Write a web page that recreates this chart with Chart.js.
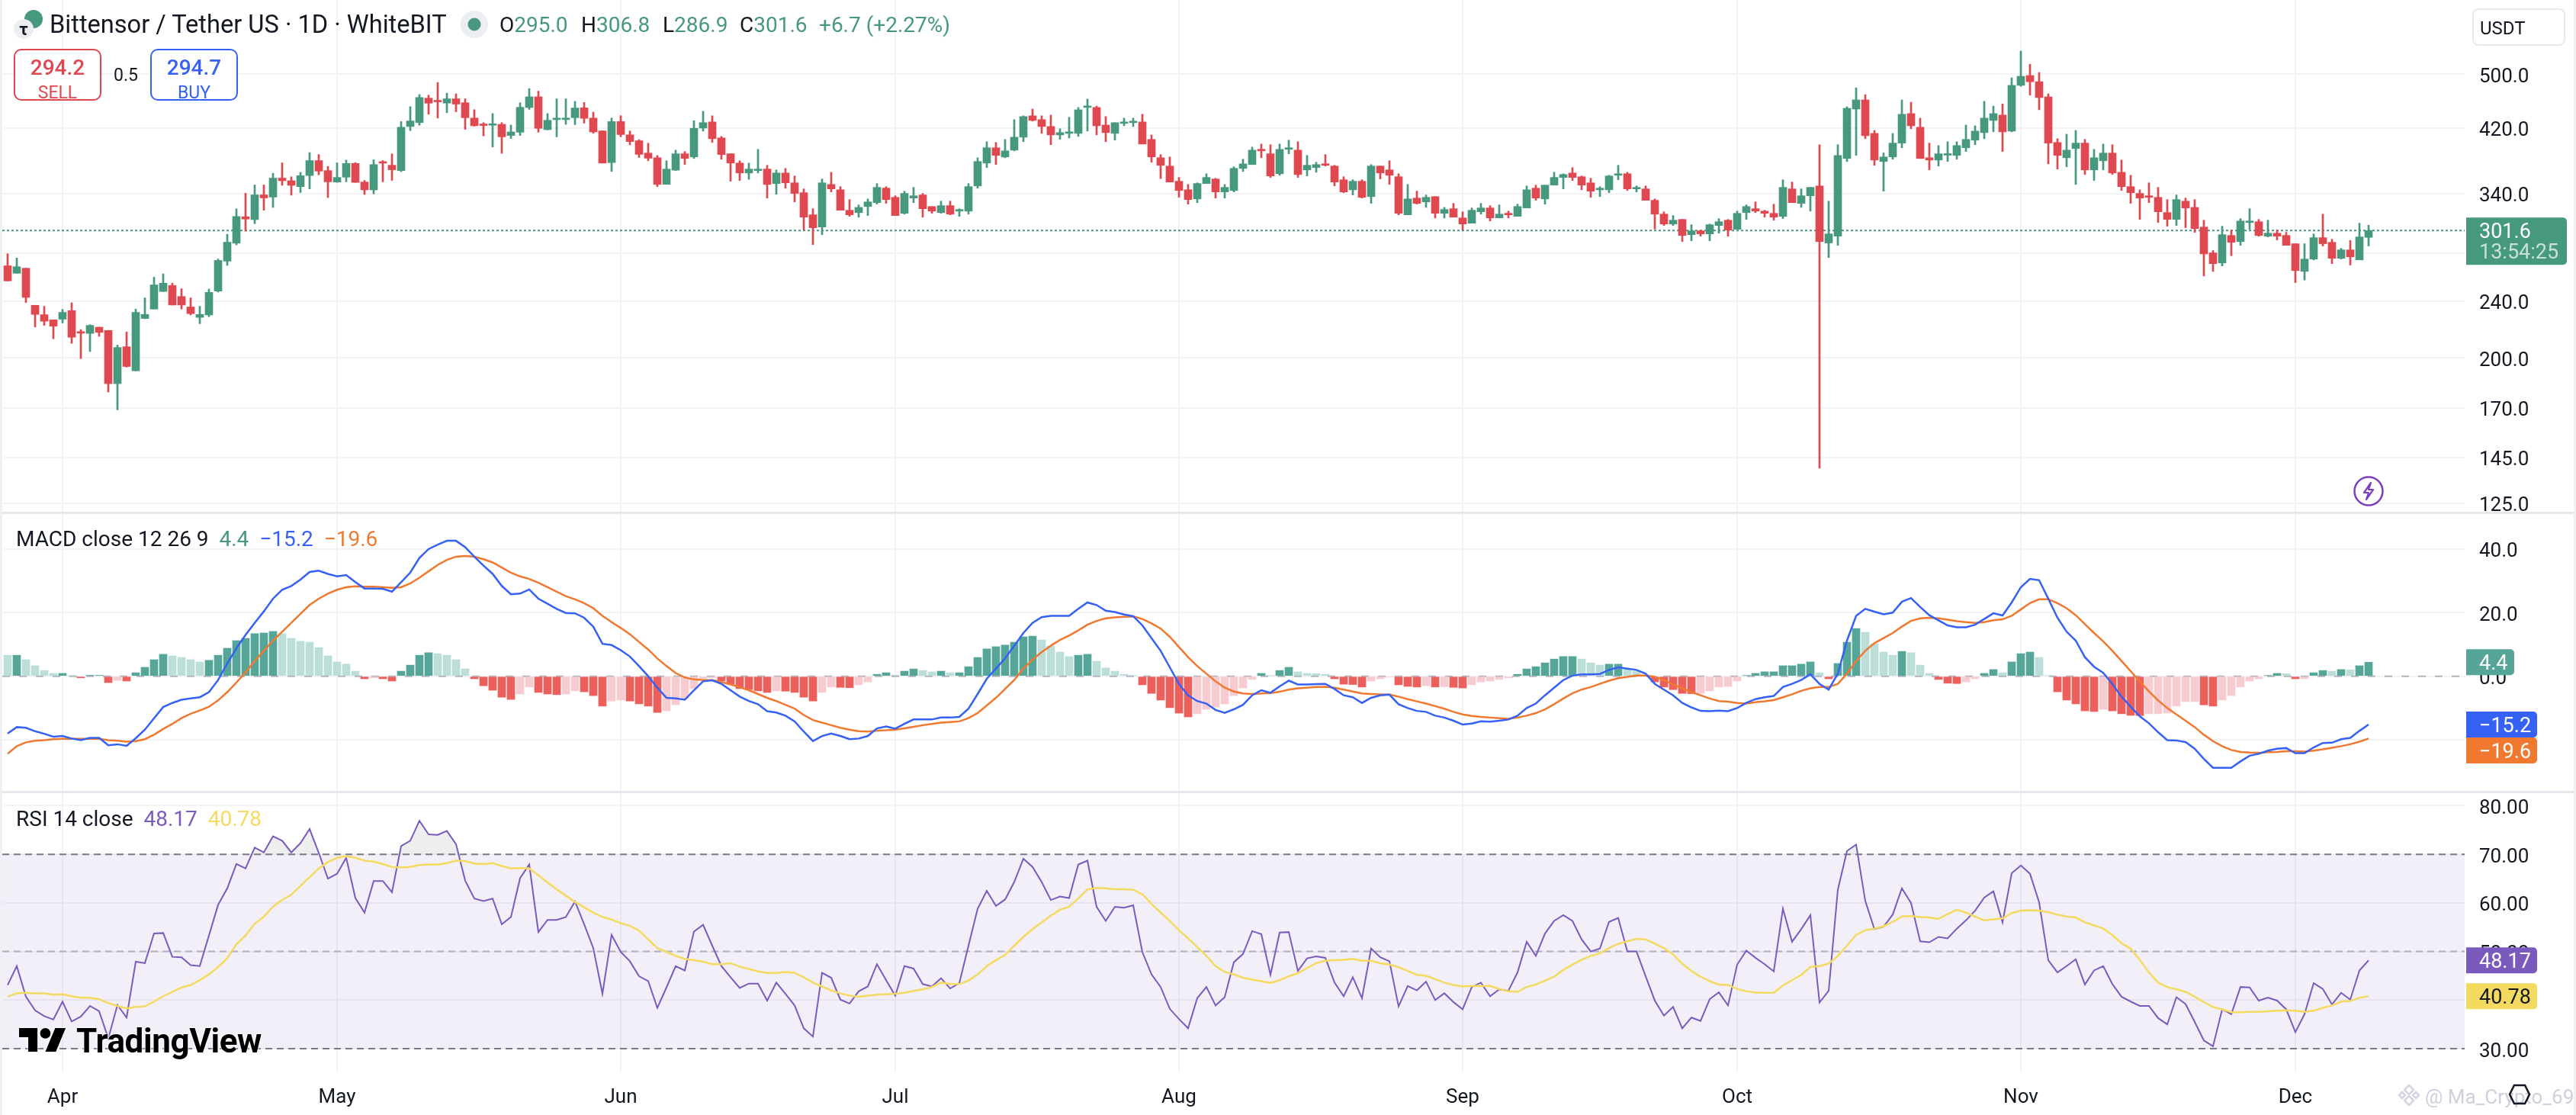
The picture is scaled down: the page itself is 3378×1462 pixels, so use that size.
<!DOCTYPE html>
<html>
<head>
<meta charset="utf-8">
<title>Bittensor / Tether US</title>
<script src="https://cdn.jsdelivr.net/npm/chart.js@4/dist/chart.umd.js"></script>
<style>
  html, body { margin: 0; padding: 0; background: #fff; }
  #page { position: relative; width: 3378px; height: 1462px; overflow: hidden; font-family: Roboto, sans-serif; color: #131722; }
  #myChart { position: absolute; left: 0; top: 0; }
  .txt { position: absolute; white-space: nowrap; line-height: 1; }
  .box { position: absolute; box-sizing: border-box; border: 2px solid; border-radius: 10px; text-align: center; background: #fff; }
  .g { color: #46987f; }
</style>
</head>
<body>
<div id="page">
  <canvas id="myChart" width="3378" height="1462"></canvas>

  <svg class="txt" style="left:14px;top:8px" width="62" height="52" viewBox="0 0 62 52">
    <circle cx="30" cy="17" r="12" fill="#46987f"/>
    <circle cx="17" cy="30" r="13" fill="#eceef2"/>
    <text x="17" y="38" font-size="22" font-weight="700" text-anchor="middle" fill="#131722">τ</text>
  </svg>
  <div class="txt" id="title" style="left:65px;top:16px;font-size:32.6px">Bittensor / Tether US · 1D · WhiteBIT</div>
  <svg class="txt" style="left:604px;top:14px" width="36" height="36"><circle cx="18" cy="18" r="18" fill="#eceef2"/><circle cx="18" cy="18" r="8.5" fill="#46987f"/></svg>
  <div class="txt" style="left:655px;top:19px;font-size:28px">O<span class="g">295.0</span></div>
  <div class="txt" style="left:762px;top:19px;font-size:28px">H<span class="g">306.8</span></div>
  <div class="txt" style="left:869px;top:19px;font-size:28px">L<span class="g">286.9</span></div>
  <div class="txt" style="left:970px;top:19px;font-size:28px">C<span class="g">301.6</span></div>
  <div class="txt g" style="left:1074px;top:19px;font-size:28px">+6.7 (+2.27%)</div>

  <div class="box" style="left:18px;top:64px;width:115px;height:68px;border-color:#e0474f;color:#e0474f">
    <div style="font-size:28px;font-weight:500;margin-top:6px">294.2</div><div style="font-size:23px;margin-top:3px">SELL</div>
  </div>
  <div class="txt" style="left:149px;top:87px;font-size:23px">0.5</div>
  <div class="box" style="left:197px;top:64px;width:115px;height:68px;border-color:#3661f5;color:#3661f5">
    <div style="font-size:28px;font-weight:500;margin-top:6px">294.7</div><div style="font-size:23px;margin-top:3px">BUY</div>
  </div>

  <div class="txt" style="left:3242px;top:11px;width:122px;height:49px;box-sizing:border-box;border:2px solid #e8e9ee;border-radius:8px;font-size:24px;padding:12px 0 0 8px">USDT</div>

  <div class="txt" style="left:21px;top:693px;font-size:28px">MACD close 12 26 9&nbsp; <span class="g">4.4</span>&nbsp; <span style="color:#3661f5">−15.2</span>&nbsp; <span style="color:#f0792f">−19.6</span></div>
  <div class="txt" style="left:21px;top:1060px;font-size:28px">RSI 14 close&nbsp; <span style="color:#7a5bbd">48.17</span>&nbsp; <span style="color:#f5da60">40.78</span></div>

  <svg class="txt" style="left:3085px;top:623px" width="42" height="42" viewBox="0 0 42 42">
    <circle cx="21" cy="21" r="18.5" fill="#fff" stroke="#7b3fc0" stroke-width="2.5"/>
    <path d="M24 10l-9 13h6l-3 9 9-13h-6z" fill="none" stroke="#7b3fc0" stroke-width="2.2" stroke-linejoin="round"/>
  </svg>

  <svg class="txt" style="left:25px;top:1348px;filter:drop-shadow(0 0 2px #fff)" width="62" height="31" viewBox="0 4 36 18"><path d="M14 22H7V11H0V4h14v18zM28 22h-8l7.5-18h8L28 22z" fill="#000"/><circle cx="20" cy="8" r="4" fill="#000"/></svg>
  <div class="txt" id="tvlogo" style="left:100px;top:1343px;font-size:44px;font-weight:700;color:#000;letter-spacing:-0.4px;text-shadow:0 0 3px #fff,0 0 3px #fff">TradingView</div>

  <svg class="txt" style="left:3144px;top:1421px" width="30" height="30" viewBox="0 0 30 30">
    <path d="M15 2l6 6-6 6-6-6zM6 11l4 4-4 4-4-4zM24 11l4 4-4 4-4-4zM15 16l6 6-6 6-6-6z" fill="none" stroke="#d4d4e2" stroke-width="2.5"/>
  </svg>
  <div class="txt" style="left:3180px;top:1425px;font-size:26px;color:#cfcfdd">@ Ma_Crypto_69</div>
  <svg class="txt" style="left:3289px;top:1421px" width="30" height="28" viewBox="0 0 30 28">
    <path d="M8 2h14l6 12-6 12H8L2 14z" fill="none" stroke="#131722" stroke-width="2.5"/>
  </svg>
</div>

<script>
// ---- data ----
const opens = [
  269.1,262.7,267,236.9,229.8,226,226.5,232.8,217.4,216.3,
  220.7,218.4,183.9,207.2,191.7,227,234,247.7,252.5,243.7,
  235.6,227.8,229.6,248,273.2,289.5,315.3,312.4,338.4,336,
  357.2,354.2,347.5,360.2,378,366,352.7,358.3,374.5,352.7,
  343.9,376,372.4,366,422,427.4,462.5,458.6,455.2,461.5,
  455.7,433.7,424.5,423.7,425,410,414.3,448.7,464.5,417.8,
  431.5,431.5,434.2,448.2,433.7,416,375.6,428.8,410.8,403,
  387.3,381.5,350.1,366.5,386.4,382.5,419.9,428.3,406.7,386.4,
  375,363.2,366,367.8,351,363.2,351.8,340.8,317.3,305,
  350,344,322,319.6,325.9,330,345.8,335.7,318.8,334.9,
  338.3,325.9,319.6,326.8,321.1,321.1,348.3,375,394,382.5,
  391,407.7,436.8,431.5,422,410.7,412.7,412.7,448.8,448.8,
  424,412.7,426.2,427.3,428.3,404.8,381.5,371.4,353.6,344,
  334,351,356.2,341.6,343.2,368.6,373.2,392,386.4,362.3,
  392,391,366.8,369.6,374,371.4,355.3,344,353.6,336.5,
  371.4,366.8,358.8,317.3,334.9,330.8,336.5,318.8,323.6,314.1,
  308.8,320.4,324.4,314.1,318.8,315.7,324.4,345.8,334,349.2,
  358,363.2,358.8,351.8,344,344,360.5,362.3,345,345,
  332.5,318,308,312.6,297.6,301.3,298.3,306.5,311.8,302.8,
  319.6,323.6,321.1,318.8,315.7,345,329.2,337.4,348.3,289.7,
  296.1,380.6,446.5,459.9,412.7,376.9,382.5,400,440,421,
  381.5,378.7,384.7,384.4,394,403.8,413.8,430.4,437.9,415.8,
  482,497.5,487.7,464.4,400.8,381.5,393,400,366.8,377.8,
  387.3,364,347.5,340,337.4,335.7,319.6,312.6,331.6,325,
  305,280.6,271.6,296.8,291,309.5,310.3,296.1,299,296.8,
  289,264.3,275,294.7,290.3,275.7,283.3,274.3,295
];
const highs = [
  279.8,276,267,236.9,236.1,226,233.8,238.8,219,222.5,
  220.7,218.4,208.3,217.3,234,242.6,259.4,262.2,254.4,249.9,
  242.6,236.1,249.6,275,297.9,323.5,340.2,349.4,349.4,362.7,
  375.3,358.7,363.9,388,385.5,371,375.3,378.6,375.6,354.6,
  379,378,386.3,428.8,449.9,468,467,486.6,470,469,
  461.5,445.6,427.4,440,427.4,424,455.7,477,473,440,
  461.5,461.5,457.6,456,442,416.5,433.7,437,416,404.5,
  399.9,384.3,377.8,391,389.3,430,443.2,436.8,408.7,386.4,
  377.8,375,392,372.3,366.8,368.6,359.7,345,323.6,356.2,
  364,347.5,333.3,327.6,334,351,347.5,337.4,342.5,346.7,
  340,325.9,331.6,331.6,323.6,351,381.5,401.8,400.8,404.8,
  431.5,436.8,446.5,436.8,437.9,419,434.8,448.8,461,450.7,
  435.8,427.3,433.6,433.6,439,410.7,385.4,382.5,358,350,
  351.8,362.3,357,350,370.5,379.7,394.9,398.8,397.9,398.8,
  403.8,401.8,384.4,376,385.4,372.3,358.8,355.3,355.3,373.2,
  371.4,377.8,362.3,350,342.5,338.3,336.5,325,329.2,320.4,
  324.4,329.2,326.8,327.6,321.1,328.4,348.3,349.2,349.2,364,
  362.3,369.6,359.7,357,347.5,360.5,372.3,364,348.3,348.3,
  334,320.4,316.5,312.6,307.3,302,308,313.4,312.6,321.1,
  327.6,330.8,322,328.4,355.3,352.7,345,346.7,397.9,331.6,
  397.9,449.8,478,467.8,416.6,387.5,412.7,459.9,456.4,433.6,
  400,396.9,401.8,401.8,424,423,457.7,450.7,453.9,493.9,
  538.3,516,502.5,469,405.7,411.7,416.6,404.8,392,398.8,
  397.9,378.7,360.5,344,351.8,346.7,333.3,338.3,334.9,333.3,
  311.8,282.7,305.8,302,313.4,323.6,312.6,311.8,302,299.8,
  289,289,298.3,318,293.2,284.7,292,308.8,306.8
];
const lows = [
  256.3,262.7,239,220.9,222,212.6,223.7,209.5,199.4,204,
  214.3,179,169,194,191.7,226.8,234,247.7,237.1,234,
  229.6,223.2,228.3,247.2,269.4,287.9,301,308.3,322,324.9,
  349,338,341,345,361,335.5,352.3,353,352.3,338.8,
  339.5,353,354.6,364.8,416.5,423.7,439,433.7,441.2,442.6,
  418.2,422.5,409.5,395,387,406,410,446,414.3,417.4,
  408.2,425,424.6,426.6,412.9,375,365,408.2,397.7,381.9,
  377.8,347.5,350.1,365.9,373.2,380.6,415.8,400.8,379.7,353.7,
  354.5,355.8,363.2,334.9,339,345.8,330.8,302,288.2,297.6,
  341.6,322,315.7,314.9,316.5,328.4,329.2,316.5,318,330,
  314.9,318.8,318.8,317.3,315.7,318,345.8,369.6,373.2,381.5,
  390.1,401.8,429.4,412.7,397.9,404.8,406.7,408.7,415.8,410.7,
  401.8,403.8,423,422,398.8,376,356.6,352.7,335.7,328.4,
  330,351,334.9,334.9,341.6,365,373.2,381.5,358,360.5,
  386.4,358,359.7,364,371.4,348.3,340.8,338.3,334.9,329.2,
  356.2,350,317.3,317.3,328.4,325,314,314,314.9,302,
  308.8,318,311,314.1,314.1,315.7,324.4,332.5,328.4,349.2,
  345,354.5,344,335.7,336.5,340.8,355.3,343.2,341.6,332.5,
  303,306.5,306.5,291,291.8,296.1,291.8,299,296.1,302.8,
  312.6,319.6,314.9,311.8,313.4,330,325,321.1,140,276.3,
  287.5,376.9,384.4,405.7,372.3,342.5,379.7,394,419,380.6,
  366.8,371.4,376.9,379.7,389.3,397.9,405.7,414.8,389.3,414.8,
  480.5,467,445.4,374,367.8,370.5,350,361.4,354.5,366.8,
  361.4,343.2,329.2,312.6,330,309.5,305.8,306.5,304.3,299.8,
  260.4,264.2,269,278,287.5,302.8,296.1,295.4,292.5,287.5,
  254.9,257,274.3,286.8,271,275,269.8,274.3,286.9
];
const closes = [
  256.3,268.3,243,230,225,221.4,231.5,213.7,216.5,222,
  217,183.9,206.7,194.4,231.5,230,253,254.4,237.1,237.1,
  230.6,230,247,273.8,290.4,315.6,313,338.4,335.1,357.2,
  354.2,349,360,378,365.4,353,358,374.5,352.3,343.9,
  373.2,374.9,367,421,429.6,463.5,455,457,461.5,453.7,
  434.2,423,423.4,425,408.2,414.7,449,464.5,419.5,430.6,
  433.3,433.7,448,433.3,414.7,375,428.8,411.2,402,385.7,
  380.9,350,367.8,386.4,380.6,419.6,427.3,405.7,385.5,375,
  363.2,367.8,367.8,350,363.2,351.8,340,314.9,304.3,351.8,
  345,322,317.3,325,330.8,346.7,333.3,316.5,340,337.4,
  323.6,321.1,326.8,318,322.8,347.5,376.9,394,384.4,390.1,
  407.7,435.8,430.4,422,410.7,413.8,414.8,445.4,450.7,423,
  413.8,427.3,428.3,429.4,398.8,382.5,372.3,352.7,343.2,333.3,
  351,358,341.6,346.7,368.6,374,391,390.1,359.7,392,
  394,361.4,372.3,373.2,372.3,352.7,341.6,353.6,335.7,371.4,
  363.2,360.5,318.8,334,329.2,335.7,318.8,322.8,314.9,308,
  322,324.4,314.1,318,317.3,325.9,344,334.9,349.2,358,
  361.4,358,349.2,342.5,345.8,359.7,362.3,345,346.7,332.5,
  318,308,311.8,296.8,301.3,298.3,307.3,310.3,302,318.8,
  325.9,321.1,318.8,314.9,346.7,330,337.4,346.7,291,298.3,
  384.4,447.6,459.9,409.7,378.7,382.5,400,439,423,380.6,
  378.7,386.4,386.4,396.9,404.8,415.8,433.6,440,414.8,482,
  496.3,487.7,463.3,400,384.4,391,400,366.8,381.5,387.3,
  363.2,347.5,340.8,334.9,335.7,320.4,312.6,333.3,324.4,303.5,
  279.7,271,297.6,290.3,311,311,296.8,299,296.1,287.5,
  265,275,294.7,289,275.7,283.3,277,295.4,301.6
];
const histogram = [
  6.6,6.6,5.2,3.3,1.8,.9,.9,.2,-.5,.3,
  .3,-2,-1.3,-1.5,1.1,2.8,5.2,6.9,6.4,5.9,
  5.2,4.5,5,6.6,8.8,11.2,11.9,13.4,13.6,14.1,
  13.4,11.9,11,10.7,9,6.4,4.5,3.8,1.6,-.8,
  -.5,-.8,-1.5,1.6,3.5,6.6,7.4,7.1,6.6,5.2,
  2.3,-.8,-3,-4.4,-6.6,-7.3,-5.6,-3.4,-5.1,-5.6,
  -5.8,-5.6,-4.6,-4.9,-6.1,-9.4,-7.8,-7.5,-7.8,-8.7,
  -9.4,-11.4,-10.9,-9,-7,-3.9,-.8,-.5,-1.5,-2.5,
  -3.9,-4.2,-4.6,-5.1,-4.6,-4.7,-5.1,-6.6,-7.8,-5.1,
  -3.4,-3.5,-3.6,-2.7,-1.8,.6,1.1,.4,1.6,2.3,
  1.8,1.4,1.6,1.1,1.1,3,5.9,8.6,9.3,9.8,
  10.7,12.4,12.6,11.4,9.5,7.6,6.2,6.6,6.9,4.7,
  2.6,1.6,.6,.2,-2.7,-5.4,-7.5,-9.9,-11.6,-12.8,
  -11.8,-10.4,-9.7,-8.7,-6.1,-3.7,-1,.9,.2,1.8,
  2.8,1.4,.9,.8,.6,-.8,-2.5,-2.6,-3.4,-1.5,
  -.8,-.3,-2.7,-3.2,-3.4,-3,-3.4,-3.3,-3.5,-3.7,
  -2.7,-1.8,-1.5,-1,-.5,.6,2.3,3,4.2,5.4,
  6.2,6.2,5.4,4.2,3.5,3.8,3.8,2.3,1.6,.4,
  -1.8,-3.4,-4.2,-5.4,-5.5,-5.4,-4.6,-3.4,-3.2,-1.5,
  .2,.9,1.4,1.4,3.3,3.3,3.8,4.5,1.1,-.8,
  4,10.7,15,13.8,10.2,7.6,6.6,7.8,7.4,3.5,
  .9,-1,-2.2,-2.3,-1.8,-.8,.9,2.1,1.1,4.5,
  7.1,7.6,5.9,.2,-4.9,-7.5,-8.7,-10.9,-11.1,-10.4,
  -10.9,-11.8,-12.3,-12.4,-11.8,-11.8,-11.6,-9.4,-8,-8,
  -9,-9.4,-7.5,-6.1,-3.4,-1.5,-.8,.2,.9,.8,
  -.8,-.8,1.1,1.8,1.6,2.1,2,3.3,4.4
];
const macdLine = [
  -18,-16,-16.2,-17.3,-18.1,-19,-18.8,-19.6,-20.1,-19.4,
  -19.4,-21.7,-21.4,-21.9,-19.5,-16.8,-13.2,-9.7,-8.4,-7.4,
  -7,-6.6,-5,-1.2,4,8.8,13,16.8,20.4,24.4,
  27.2,28.4,30.4,32.8,33.2,32.2,31.4,31.8,29.6,27.6,
  27.6,27.5,26.6,29.6,32.6,37.2,40,41.4,42.6,42.6,
  40.6,37.6,34.8,32.2,28.4,25.8,26,27.3,24.4,22.8,
  21.2,19.9,19.8,18.4,15.6,10.2,9.8,8.2,6.2,3.2,
  0,-3.6,-6.8,-7,-7.4,-4.4,-1.6,-1.3,-2.4,-4.4,
  -6.4,-7.8,-8.8,-11,-11.4,-12.4,-14.2,-17.4,-20.4,-18.8,
  -18,-18.8,-19.8,-19.6,
  -18.8,-16.4,-15.8,-16.5,-15,-13.6,-13.6,-13.6,-13,-13,
  -12.8,-10.2,-5.6,-.8,2.4,5.6,9.6,13.6,16.8,18.6,
  19,19,19,21.2,23.2,22.4,20.6,20.2,19.4,18.9,
  16,12,8,2.8,-2.4,-6,-7.8,-8.6,-10.6,-11.5,
  -10.4,-9,-6,-4.4,-5.2,-3.2,-1.4,-2.6,-2.6,-2.5,
  -2.4,-4,-6,-6.6,-8.4,-6.8,-6,-5.8,-8.8,-10,
  -10.9,-11.2,-12.4,-13,-14,-15.2,-14.9,-14.2,-14.3,-14,
  -13.6,-12.4,-10,-8.6,-6,-3.6,-1.2,.2,.6,.6,
  .7,2,2.8,2.4,2,.8,-2.4,-4.2,-6,-8.4,
  -9.8,-10.9,-11,-10.8,
  -11,-10,-8.4,-7.2,-6.6,-6.2,-3.4,-2.4,-1.2,.6,
  -2.4,-4.2,.8,11.2,19,21.2,20.3,19.5,20,23.4,
  24.6,21.8,19.2,17.6,16,15.4,15.4,16.2,18,19.8,
  19.1,23.2,28,30.6,30.2,24.4,18.4,14,11.2,6,
  3,1.1,-2.4,-6.4,-9.6,-12.6,-14.8,-17.6,-20.1,-20.2,
  -20.7,-22.8,-26,-28.8,-28.8,-28.8,-26.8,-25,-24.4,-23.4,
  -22.8,-22.6,-24.2,-24.2,-22.4,-21,-20.9,-19.8,-19.4,-17.2,
  -15.2
];
const signalLine = [
  -24.4,-22,-20.8,-20.3,-20.1,-19.8,-19.7,-19.7,-19.7,-19.7,
  -19.7,-20.1,-20.3,-20.6,-20.4,-19.8,-18.4,-16.6,-15,-13.2,
  -11.8,-10.8,-9.6,-7.6,-5,-2,1.2,4.8,8,11.2,
  14,16.8,19.6,22.4,24.4,26,27.2,28,28.3,28.2,
  28.2,28,27.8,28,29.2,31,33,35,36.6,37.6,
  37.8,37.6,36.8,35.8,34.2,32.6,31.4,30.6,29.4,28,
  26.6,25.2,24.2,23,21.4,19,17,15.2,13.2,10.8,
  8.4,5.6,3.2,1,-.4,-1,-1.2,-1.2,-1.8,-2.6,
  -3.4,-4.4,-5.6,-6.8,-7.8,-9,-10.2,-12.2,-13.8,-14.6,
  -15.4,-16.2,-16.8,-17.3,
  -17.4,-17.1,-17,-16.8,-16.4,-15.9,-15.4,-15,-14.6,-14.4,
  -14.2,-13.2,-11.6,-9.2,-6.8,-4,-1.2,2.4,5.2,7.6,
  9.6,11.4,12.8,14.4,16.2,17.4,18.2,18.5,18.7,18.8,
  18,16.6,15,12.4,9.2,6,3.2,.8,-1.6,-3.6,
  -4.8,-5.4,-5.6,-5.4,-5.3,-4.9,-4.2,-3.8,-3.6,-3.4,
  -3.3,-3.6,-4.2,-4.8,-5.4,-5.6,-5.7,-5.8,-6.4,-7.2,
  -7.9,-8.6,-9.4,-10.2,-11.2,-12,-12.5,-12.8,-13,-13.2,
  -13.4,-13,-12.4,-11.6,-10.4,-8.8,-7,-5.4,-4.2,-3.4,
  -2.4,-1.4,-.6,-.2,.2,.2,-.2,-1.2,-2.6,-3.8,
  -5,-6,-7,-7.8,
  -8,-8.4,-8.6,-8.2,-7.9,-7.5,-6.6,-5.7,-4.6,-3.8,
  -3.4,-3.4,-2.4,.8,4.8,8,10.4,12,13.6,15.6,
  17.4,18.2,18.4,18.2,17.8,17.3,17,16.8,17,17.6,
  17.9,19,21,23,24.2,24.2,23,21.4,19.2,16.4,
  13.6,11,8,4.8,1.6,-1.6,-4.8,-7.6,-10,-12,
  -14,-16,-18.4,-20.4,-22,-23.2,-23.8,-24,-24.1,-23.9,
  -23.8,-23.6,-23.6,-23.7,-23.4,-23,-22.5,-22,-21.4,-20.6,
  -19.6
];
const rsiLine = [
  43.1,47,40.7,37.9,36.7,36,39.7,35.6,36.6,38.8,
  37.7,32.1,39,36.4,47.9,47.6,53.7,53.8,48.9,48.8,
  47.2,47,53.3,59.6,63,68,67.1,71.4,70.4,73.7,
  72.8,70.4,72.3,75.2,70.3,65,66,69.3,61,58,
  64.5,64.5,62.2,71.7,72.8,76.9,74.1,74,74.8,72.1,
  64.6,60.9,60.4,60.9,55.6,57.1,65.1,67.9,54,56.5,
  56.5,57.1,60.3,55.6,50.7,41.3,53.4,49.9,48,44.9,
  43.9,38.4,42.6,47,46.1,54.1,55.5,51.2,47,44.7,
  42.5,43.4,43.4,39.9,43.6,41.3,38.9,34.2,32.5,45.6,
  44.6,40.1,39.3,41.8,
  42.8,47.4,44.1,40.9,47,46.5,43.3,42.8,44.5,42.4,
  43.5,51.2,58.8,62.5,59.4,60.7,64.3,69.1,67.4,64.3,
  60.6,61.3,61,67.9,68.7,59.2,56.3,59.2,59,59.5,
  49.9,45.3,42.7,38.2,36.1,34.2,40.4,42.7,38.9,40.6,
  47.8,49.5,54.2,53.6,45.2,53.9,54,46,48.6,49,
  48.7,43.6,40.8,44.7,40.4,50.6,48.8,48,38.7,42.9,
  42,43.8,40,41.4,39.6,38.1,42.7,43.6,40.8,42.2,
  41.9,45.7,52,49.1,53.7,56.3,57.5,56.3,52.5,50,
  50.6,56.1,56.9,50,50,44.9,39.9,36.8,38.6,34.2,
  36.4,35.7,40.2,41.6,
  38.9,47.3,50.2,48.7,47.4,45.9,58.8,52,54.6,57.5,
  39.5,41.9,62.7,70.7,72,60.4,54.6,55.1,57.6,63,
  60,52.1,51.9,53,52.7,54.7,56.4,58.4,61.1,62.4,
  56,66.1,67.7,66,60.1,48.2,45.7,47,48.4,43.2,
  46.1,47,43.3,40.7,39.7,38.8,38.8,36.3,35,40.6,
  39.2,35.5,31.7,30.5,38.1,37.1,42.7,42.6,39.9,40.5,
  39.9,38.1,33.4,37.1,43.5,42.3,39.1,41.5,40.1,46.1,
  48.17
];
const rsiAverage = [
  40.7,41.4,41.5,41.4,41.4,41.1,41.2,40.8,40.5,40.5,
  40.2,39.4,38.8,38.3,38.6,38.7,39.7,40.8,41.7,42.6,
  43.1,44.1,45.3,46.8,48.6,51.5,53.3,55.7,57.2,59.2,
  60.6,61.7,63.5,65.3,67.1,68.4,69.3,69.6,69.3,68.7,
  68.5,68,67.4,67.3,67.4,67.8,67.9,67.9,68.2,68.7,
  68.6,68.1,68,68.2,67.6,67.1,67.2,67.1,65.7,64.2,
  62.8,61.5,60.2,59.1,58,57.1,56.6,55.8,55.3,54.3,
  52.5,50.7,49.9,49.1,48.5,48.2,47.9,47.4,47.4,47.6,
  46.9,46.4,45.9,45.6,45.6,45.8,45.6,44.7,43.6,42.8,
  42,41.4,40.9,40.7,
  40.9,41.1,41.2,41.3,41.5,41.9,42.2,42.7,43.6,43.3,
  43.3,44,45.3,47,48.2,49.3,51.2,53,54.6,56,
  57.4,58.6,59.2,60.9,62.8,63.1,63,62.8,62.8,62.7,
  61.8,59.8,58,56.3,54.4,52.7,50.9,49.1,47,45.8,
  45.3,44.6,44.2,43.9,43.5,44.1,44.9,45.5,46.6,47.6,
  48.1,48.2,48.3,48.5,48.1,48.1,47.6,47.3,46.8,46,
  45.2,45,44.3,43.6,43.1,42.8,42.9,42.9,42.9,42.3,
  41.8,41.7,42.7,43.2,44,44.8,46.2,47.3,48.3,49.1,
  49.6,50.7,51.6,52.1,52.6,52.5,51.6,50.7,49.4,47.5,
  46,44.8,43.9,43.2,
  43.1,42.3,41.8,41.6,41.5,41.5,43,44.1,45.2,46.8,
  47,47.5,49.1,51.2,53.4,54.4,54.7,55.2,56.1,57.2,
  57.3,57.1,57,56.7,57.7,58.6,58,57.2,56.4,56.6,
  56.8,57.9,58.4,58.5,58.4,58.1,57.6,57.2,57,56,
  55.4,54.7,53.4,51.7,50.6,48.3,45.7,43.6,42.7,42.2,
  41.7,40.7,39.6,38.6,38.1,37.5,37.5,37.6,37.6,37.7,
  37.8,37.9,37.8,37.6,37.8,38.4,38.9,39.7,39.8,40.5,
  40.78
];
const priceTicks = [125, 145, 170, 200, 240, 280, 340, 420, 500];
const macdTicks = [-20, 0, 20, 40];
const rsiTicks = [30, 40, 50, 60, 70, 80];
const monthNames = { '04': 'Apr', '05': 'May', '06': 'Jun', '07': 'Jul', '08': 'Aug', '09': 'Sep', '10': 'Oct', '11': 'Nov', '12': 'Dec' };
const lastPrice = 301.6;
const countdown = '13:54:25';

// ---- colours ----
const GREEN = '#46987f';
const RED = '#e0474f';
const BLUE = '#3661f5';
const ORANGE = '#f0792f';
const PURPLE = '#7a5bbd';
const YELLOW = '#f5da60';
const GRID = '#f3f3f5';
const INK = '#131722';
const FONT = { family: 'Roboto, sans-serif', size: 26 };

// one category per day, plus the empty days right of the last candle
const days = [];
const start = Date.UTC(2025, 2, 26);
for (let i = 0; i < closes.length + 10; i++) {
  days.push(new Date(start + i * 86400000).toISOString().slice(0, 10));
}
const monthOf = (i) => days[i].endsWith('-01') ? monthNames[days[i].slice(5, 7)] : '';

const candleColor = (c) => closes[c.dataIndex] >= opens[c.dataIndex] ? GREEN : RED;
const histColor = (c) => {
  const i = c.dataIndex;
  const v = histogram[i];
  if (v >= 0) return i > 0 && v >= histogram[i - 1] ? '#55a698' : '#bcded8';
  return v < histogram[i - 1] ? '#ee5f5b' : '#f8cbd0';
};

// no margin for labels that overflow the scale, the panes fill the canvas edge to edge
const noPadding = (s) => {
  s.paddingTop = 0;
  s.paddingBottom = 0;
  s.paddingLeft = 0;
  s.paddingRight = 0;
};

// right hand axis, all three panes have the same width
const paneAxis = (ticks, fmt, extra) => Object.assign({
  position: 'right',
  stack: 'panes',
  border: { display: false },
  grid: { color: GRID, lineWidth: 2, drawTicks: false },
  afterFit: (s) => { s.width = 146; noPadding(s); },
  afterBuildTicks: (s) => { s.ticks = ticks.map((value) => ({ value })); },
  ticks: { color: INK, font: FONT, padding: 19, labelOffset: 4, autoSkip: false, callback: fmt }
}, extra);

const badge = (ctx, x, y, w, h, bg, fg, text) => {
  ctx.fillStyle = bg;
  ctx.beginPath();
  ctx.roundRect(x, y, w, h, [0, 5, 5, 0]);
  ctx.fill();
  ctx.fillStyle = fg;
  ctx.textAlign = 'left';
  ctx.textBaseline = 'middle';
  ctx.fillText(text, x + 17, y + h / 2 + 3);
};

// rsi band, dashed levels, last price line and the axis badges
const panes = {
  id: 'panes',
  beforeDatasetsDraw(chart) {
    const { ctx, chartArea: a, scales: s } = chart;
    const hline = (y, color, width, dash) => {
      ctx.strokeStyle = color;
      ctx.lineWidth = width;
      ctx.setLineDash(dash);
      ctx.beginPath();
      ctx.moveTo(3, y);
      ctx.lineTo(a.right, y);
      ctx.stroke();
    };
    ctx.save();
    const top = s.yRsi.getPixelForValue(70);
    ctx.fillStyle = 'rgba(120,80,190,0.095)';
    ctx.fillRect(3, top, a.right - 3, s.yRsi.getPixelForValue(30) - top);
    hline(s.yRsi.getPixelForValue(70), '#787b86', 2, [9, 6]);
    hline(s.yRsi.getPixelForValue(50), '#b0b0b8', 2, [9, 6]);
    hline(s.yRsi.getPixelForValue(30), '#787b86', 2, [9, 6]);
    hline(s.yMacd.getPixelForValue(0), '#b2b5be', 2, [10, 12]);
    hline(s.yPrice.getPixelForValue(lastPrice), GREEN, 2, [3, 3]);
    ctx.restore();
  },
  afterDraw(chart) {
    const { ctx, scales: s, width, height } = chart;
    ctx.save();
    ctx.fillStyle = '#e6e6ec';
    ctx.fillRect(0, s.yPrice.bottom - 1, width, 3);
    ctx.fillRect(0, s.yMacd.bottom - 1, width, 3);
    ctx.fillStyle = '#f0f0f3';
    ctx.fillRect(0, 0, 3, height);
    ctx.fillRect(width - 3, 0, 3, height);

    ctx.font = '27px Roboto, sans-serif';
    const x = 3234;
    const py = s.yPrice.getPixelForValue(lastPrice);
    ctx.fillStyle = GREEN;
    ctx.beginPath();
    ctx.roundRect(x, py - 17, 132, 62, [0, 5, 5, 0]);
    ctx.fill();
    ctx.fillStyle = '#fff';
    ctx.textAlign = 'left';
    ctx.textBaseline = 'middle';
    ctx.fillText(lastPrice.toFixed(1), x + 17, py + 3);
    ctx.fillStyle = 'rgba(255,255,255,0.7)';
    ctx.fillText(countdown, x + 17, py + 30);

    const macdEnd = closes.length - 1;
    badge(ctx, x, s.yMacd.getPixelForValue(histogram[macdEnd]) - 17, 63, 34, '#55a698', '#fff', '4.4');
    badge(ctx, x, s.yMacd.getPixelForValue(macdLine[macdEnd]) - 17, 93, 34, BLUE, '#fff', '−15.2');
    badge(ctx, x, s.yMacd.getPixelForValue(macdLine[macdEnd]) + 17, 93, 34, ORANGE, '#fff', '−19.6');
    badge(ctx, x, s.yRsi.getPixelForValue(rsiLine[macdEnd]) - 17, 93, 34, PURPLE, '#fff', '48.17');
    badge(ctx, x, s.yRsi.getPixelForValue(rsiAverage[macdEnd]) - 17, 93, 34, YELLOW, INK, '40.78');
    ctx.restore();
  }
};

const lineSet = (label, data, color, width, yAxisID, extra) => Object.assign({
  type: 'line', label, data, borderColor: color, borderWidth: width,
  pointRadius: 0, tension: 0, fill: false, yAxisID, order: 1
}, extra);

const config = {
  type: 'bar',
  data: {
    labels: days,
    datasets: [
      // wicks and bodies as floating bars
      { label: 'wick', data: highs.map((h, i) => [lows[i], h]), yAxisID: 'yPrice', grouped: false,
        barThickness: 2, backgroundColor: candleColor, order: 3 },
      { label: 'body', data: opens.map((o, i) => [o, closes[i]]), yAxisID: 'yPrice', grouped: false,
        barThickness: 10, minBarLength: 2, backgroundColor: candleColor, order: 2 },
      { label: 'histogram', data: histogram, yAxisID: 'yMacd', grouped: false,
        barThickness: 10, backgroundColor: histColor, order: 4 },
      lineSet('MACD', macdLine, BLUE, 2.5, 'yMacd'),
      lineSet('Signal', signalLine, ORANGE, 2.5, 'yMacd'),
      lineSet('RSI', rsiLine, PURPLE, 2, 'yRsi', {
        fill: { target: { value: 70 }, above: 'rgba(120,120,130,0.13)', below: 'transparent' }
      }),
      lineSet('RSI MA', rsiAverage, YELLOW, 2.5, 'yRsi', { order: 0 })
    ]
  },
  options: {
    responsive: false,
    devicePixelRatio: 1,
    animation: false,
    events: [],
    layout: { padding: { left: 4 } },
    plugins: { legend: { display: false }, tooltip: { enabled: false } },
    scales: {
      x: {
        offset: true,
        border: { display: false },
        afterFit: (s) => { s.height = 57; noPadding(s); },
        grid: {
          offset: false, drawTicks: false, lineWidth: 2,
          color: (c) => c.index !== undefined && c.type === 'tick' && monthOf(c.index) ? GRID : 'rgba(0,0,0,0)'
        },
        ticks: { color: INK, font: FONT, padding: 19, autoSkip: false, maxRotation: 0,
          callback: (v, i) => monthOf(i) }
      },
      yPrice: paneAxis(priceTicks, (v) => Number(v).toFixed(1),
        { type: 'logarithmic', min: 121.3, max: 635, stackWeight: 672 }),
      yMacd: paneAxis(macdTicks, (v) => v.toFixed(1),
        { type: 'linear', min: -36.3, max: 51.5, stackWeight: 366 }),
      yRsi: paneAxis(rsiTicks, (v) => v.toFixed(2),
        { type: 'linear', min: 25.3, max: 82.9, stackWeight: 367 })
    }
  },
  plugins: [panes]
};

const myChart = new Chart(document.getElementById('myChart'), config);
</script>
</body>
</html>
